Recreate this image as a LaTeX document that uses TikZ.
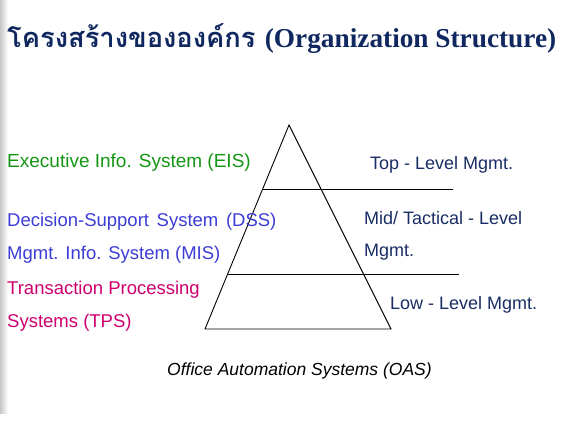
\documentclass[tikz,border=0pt]{standalone}
\usepackage{fontspec}
\setmainfont{Liberation Sans}
\newfontfamily\thaifont[Script=Thai]{Loma}
\newfontfamily\titlefont{Liberation Serif}
\definecolor{navy}{RGB}{16,40,96}
\definecolor{eisgreen}{RGB}{20,150,20}
\definecolor{dssblue}{RGB}{60,60,215}
\definecolor{tpsred}{RGB}{205,0,110}
\definecolor{levelblue}{RGB}{25,45,100}
\tikzset{
  lbl/.style={anchor=base west, inner sep=0pt, font=\fontsize{18.5}{22}\selectfont},
  lvl/.style={lbl, text=levelblue, font=\fontsize{18}{22}\selectfont},
  tier/.style={line width=0.9pt},
}
\begin{document}
\begin{tikzpicture}[x=1pt, y=-1pt]

    \useasboundingbox (0,0) rectangle (579,423);
    \shade[left color=black!22, right color=white] (0,0) rectangle (8,413);

    % title
    \node[anchor=base west, inner sep=0pt, text=navy] (title) at (7,47)
        {\thaifont\fontsize{27.3}{32}\selectfont\bfseries โครงสร้างขององค์กร\ \titlefont(Organization Structure)};

    % pyramid
    \coordinate (apex) at (289,125);
    \coordinate (bl) at (205,329);
    \coordinate (br) at (391,329);
    \draw[tier] (apex) -- (bl) -- (br) -- cycle;

    \coordinate (c1a) at (262.6,189);
    \coordinate (c1b) at (453,189);
    \coordinate (c2a) at (227.6,274);
    \coordinate (c2b) at (459,274);
    \draw[tier] (c1a) -- (c1b);
    \draw[tier] (c2a) -- (c2b);

    % systems
    \node[lbl, text=eisgreen, font=\fontsize{19}{22}\selectfont] (eis) at (7,167) {Executive Info. System (EIS)};
    \node[lbl, text=dssblue] (dss) at (7,226) {Decision-Support\hspace{2.5pt} System\hspace{2.5pt} (DSS)};
    \node[lbl, text=dssblue] (mis) at (7,259) {Mgmt. Info. System (MIS)};
    \node[lbl, text=tpsred] (tps1) at (7,294) {Transaction Processing};
    \node[lbl, text=tpsred] (tps2) at (7,327) {Systems (TPS)};

    % levels
    \node[lvl] (top) at (370,169) {Top - Level Mgmt.};
    \node[lvl] (mid) at (364,224) {Mid/ Tactical - Level};
    \node[lvl] (mid2) at (364,256) {Mgmt.};
    \node[lvl] (low) at (390,309) {Low - Level Mgmt.};

    \node[anchor=base west, inner sep=0pt, font=\fontsize{17.5}{20}\selectfont\itshape] (oas) at (167,375) {Office Automation Systems (OAS)};

\end{tikzpicture}
\end{document}
